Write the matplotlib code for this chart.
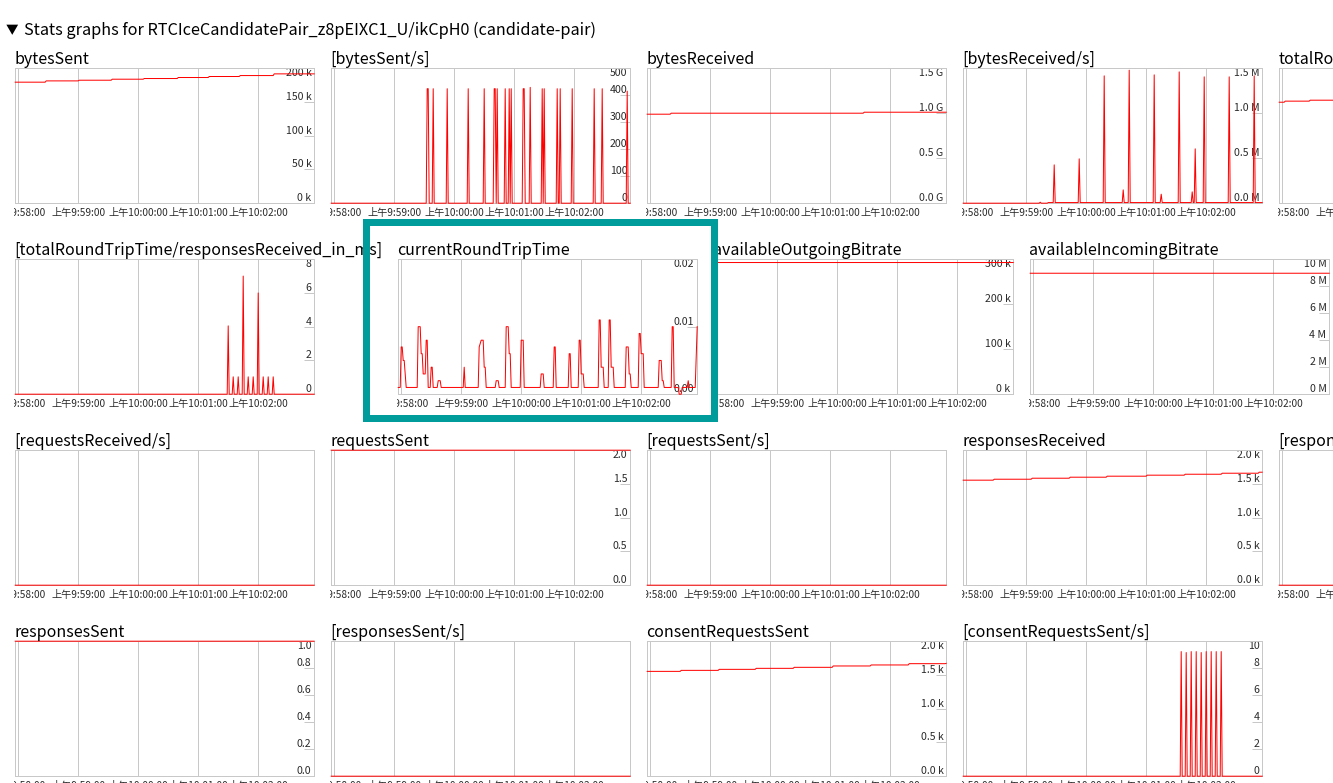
"""
Recreates the webrtc-internals stats graphs screenshot for one candidate pair.
"""

import matplotlib

matplotlib.use("Agg")
import matplotlib.pyplot as plt
from matplotlib.patches import Rectangle
from matplotlib.transforms import Bbox

plt.rcParams["font.family"] = ["Noto Sans CJK SC", "DejaVu Sans"]

WIDTH = 1333
HEIGHT = 783
PANEL_W = 299
PANEL_H = 135
T_START = -3
T_END = 296
GREY = "#c8c8c8"
TEXT_GREY = "#2a2a2a"
RED = "#ff0000"
TEAL = "#009b9b"

SECTION_TITLE = "Stats graphs for RTCIceCandidatePair_z8pEIXC1_U/ikCpH0 (candidate-pair)"
TIME_TICKS = [0, 60, 120, 180, 240]
TIME_LABELS = ["上午9:58:00", "上午9:59:00", "上午10:00:00", "上午10:01:00", "上午10:02:00"]

# step series, times are seconds after 9:58:00
BYTES_SENT_T = [-3, 27, 28, 60, 61, 93, 94, 125, 126, 159, 160, 190, 191, 221, 222, 255, 256, 296]
BYTES_SENT_V = [179.3e3, 179.3e3, 181.2e3, 181.2e3, 182.2e3, 182.2e3, 183.7e3, 183.7e3, 184.7e3,
                184.7e3, 186.2e3, 186.2e3, 187.7e3, 187.7e3, 189.1e3, 189.1e3, 191.6e3, 191.6e3]

BYTES_RECV_T = [-3, 20, 21, 213, 214, 296]
BYTES_RECV_V = [0.989e9, 0.989e9, 1.0e9, 1.0e9, 1.011e9, 1.011e9]

TOTAL_RTT_T = [-3, 2, 3, 27, 28, 296]
TOTAL_RTT_V = [0.748, 0.748, 0.756, 0.756, 0.763, 0.763]

OUTGOING_T = [-3, 296]
OUTGOING_V = [292.6e3, 292.6e3]

INCOMING_T = [-3, 296]
INCOMING_V = [8.96e6, 8.96e6]

RESP_RECV_T = [-3, 27, 28, 65, 66, 103, 104, 140, 141, 180, 181, 218, 219, 255, 256, 292, 293, 296]
RESP_RECV_V = [1556, 1556, 1570, 1570, 1585, 1585, 1600, 1600, 1615, 1615, 1630, 1630, 1644, 1644,
               1659, 1659, 1674, 1674]

CONSENT_T = [-3, 30, 31, 68, 69, 105, 106, 143, 144, 182, 183, 220, 221, 258, 259, 295, 296]
CONSENT_V = [1553, 1553, 1568, 1568, 1583, 1583, 1598, 1598, 1613, 1613, 1633, 1633, 1648, 1648,
             1667, 1667, 1672]

FLAT_ZERO_T = [-3, 296]
FLAT_ZERO_V = [0, 0]
REQUESTS_SENT_V = [2.0, 2.0]
RESPONSES_SENT_V = [1.0, 1.0]

# spike series: time of each peak and its height
BYTES_SENT_RATE_T = [93, 94, 99, 113, 134, 150, 160, 161, 163, 171, 175, 177, 189, 190, 196, 208,
                     210, 223, 226, 238, 260, 268, 293]
BYTES_SENT_RATE_V = [424, 424, 424, 424, 424, 424, 424, 424, 424, 424, 424, 424, 424, 424, 429,
                     424, 424, 424, 424, 424, 424, 424, 415]

BYTES_RECV_RATE_T = [74, 88, 113, 138, 157, 163, 188, 195, 213, 226, 229, 238, 263, 288]
BYTES_RECV_RATE_V = [0.011e6, 0.426e6, 0.493e6, 1.415e6, 0.148e6, 1.478e6, 1.426e6, 0.1e6,
                     1.459e6, 0.126e6, 0.604e6, 1.404e6, 1.404e6, 1.415e6]

RTT_PER_RESP_T = [210, 215, 220, 225, 230, 235, 240, 245, 250, 255]
RTT_PER_RESP_V = [4.05, 1.03, 1.03, 7.0, 1.03, 1.03, 6.0, 1.03, 1.03, 1.03]

CONSENT_RATE_T = [215, 220, 225, 230, 235, 240, 245, 250, 255]
CONSENT_RATE_V = [9.23, 9.16, 9.23, 9.23, 9.16, 9.23, 9.23, 9.23, 9.23]

RTT_T = [-3, -1, 0, 1, 2, 3, 5, 16, 17, 19, 20, 21, 22, 24, 25, 26, 27, 29, 30, 31, 32, 36, 37, 39,
         40, 62, 63, 64, 77, 78, 80, 82, 83, 84, 85, 94, 95, 97, 98, 104, 105, 107, 108, 109, 110,
         119, 120, 122, 123, 139, 140, 142, 143, 152, 153, 154, 155, 167, 168, 169, 170, 177, 178,
         179, 180, 182, 183, 197, 198, 199, 200, 202, 203, 207, 208, 209, 210, 212, 213, 224, 225,
         227, 228, 229, 230, 237, 238, 239, 240, 242, 243, 257, 258, 260, 261, 262, 263, 270, 271,
         272, 273, 277, 278, 280, 281, 286, 287, 288, 294, 296]
RTT_V = [.001, .001, .007, .007, .005, .005, .001, .001, .01, .01, .006, .006, .003, .003, .008,
         .008, .001, .001, .004, .004, .001, .001, .002, .002, .001, .001, .004, .001, .001, .007,
         .008, .008, .004, .004, .001, .001, .002, .002, .001, .001, .01, .01, .006, .006, .001,
         .001, .008, .008, .001, .001, .003, .003, .001, .001, .007, .007, .001, .001, .006, .006,
         .001, .001, .008, .008, .003, .003, .001, .001, .011, .011, .004, .004, .001, .001, .011,
         .011, .004, .004, .001, .001, .007, .007, .003, .003, .001, .001, .009, .009, .006, .006,
         .001, .001, .005, .005, .002, .002, .001, .001, .01, .01, .001, .001, 0, 0, .001, .001,
         .002, .001, .001, .01]

# axis ticks
G_TICKS = [0, 0.5e9, 1.0e9, 1.5e9]
G_LABELS = ["0.0 G", "0.5 G", "1.0 G", "1.5 G"]
BYTES_K_TICKS = [0, 50e3, 100e3, 150e3, 200e3]
BYTES_K_LABELS = ["0 k", "50 k", "100 k", "150 k", "200 k"]
RATE_TICKS = [0, 100, 200, 300, 400, 500]
RATE_LABELS = ["0", "100", "200", "300", "400", "500"]
M_TICKS = [0, 0.5e6, 1.0e6, 1.5e6]
M_LABELS = ["0.0 M", "0.5 M", "1.0 M", "1.5 M"]
RTT_RESP_TICKS = [0, 2, 4, 6, 8]
RTT_RESP_LABELS = ["0", "2", "4", "6", "8"]
RTT_TICKS = [0, 0.01, 0.02]
RTT_LABELS = ["0.00", "0.01", "0.02"]
OUT_TICKS = [0, 100e3, 200e3, 300e3]
OUT_LABELS = ["0 k", "100 k", "200 k", "300 k"]
IN_TICKS = [0, 2e6, 4e6, 6e6, 8e6, 10e6]
IN_LABELS = ["0 M", "2 M", "4 M", "6 M", "8 M", "10 M"]
REQ_TICKS = [0, 0.5, 1.0, 1.5, 2.0]
REQ_LABELS = ["0.0", "0.5", "1.0", "1.5", "2.0"]
K2_TICKS = [0, 500, 1000, 1500, 2000]
K2_LABELS = ["0.0 k", "0.5 k", "1.0 k", "1.5 k", "2.0 k"]
RESP_TICKS = [0, 0.2, 0.4, 0.6, 0.8, 1.0]
RESP_LABELS = ["0.0", "0.2", "0.4", "0.6", "0.8", "1.0"]
CONSENT_RATE_TICKS = [0, 2, 4, 6, 8, 10]
CONSENT_RATE_LABELS = ["0", "2", "4", "6", "8", "10"]


# Function to turn spike peaks into a line that sits on a floor value
def spikeLine(times, values, floorStart=None, floorValue=0):
    def floorAt(t):
        return floorValue if floorStart is not None and t >= floorStart else 0

    points = {T_START: 0, T_END: floorAt(T_END)}
    if floorStart is not None:
        points[floorStart - 1] = 0
        points[floorStart] = floorValue
    for t, v in zip(times, values):
        points.setdefault(t - 1, floorAt(t - 1))
        points.setdefault(t + 1, floorAt(t + 1))
        points[t] = v
    xs = sorted(points)
    return xs, [points[x] for x in xs]


# Function to draw one stats graph, left and top are pixels of the screenshot
def drawPanel(fig, left, top, title, xs, ys, ymax, ticks=None, labels=None):
    ax = fig.add_axes([left / WIDTH, 1 - (top + PANEL_H) / HEIGHT, PANEL_W / WIDTH, PANEL_H / HEIGHT])
    ax.set_xlim(T_START, T_END)
    ax.set_ylim(0, ymax)
    for spine in ax.spines.values():
        spine.set_color(GREY)
        spine.set_linewidth(0.72)

    ax.set_xticks(TIME_TICKS)
    ax.set_xticklabels(TIME_LABELS, fontsize=7.3, color=TEXT_GREY)
    ax.tick_params(axis="x", length=0, pad=3.7)
    ax.grid(axis="x", color=GREY, linewidth=0.72)
    ax.set_axisbelow(True)
    # the first time label is cut off by the left edge of the canvas
    clipBox = Bbox.from_extents(left - 1, 0, left + PANEL_W + 1, HEIGHT)
    for label in ax.get_xticklabels():
        label.set_clip_box(clipBox)
        label.set_clip_on(True)

    ax.yaxis.tick_right()
    if ticks:
        ax.set_yticks(ticks)
        ax.set_yticklabels(labels, fontsize=7.6, color=TEXT_GREY)
        ax.tick_params(axis="y", direction="in", length=7.2, width=0.72, color=GREY, pad=-2)
        yLabels = ax.get_yticklabels()
        plt.setp(yLabels, ha="right", va="bottom")
        # top label stays inside the graph
        yLabels[-1].set_va("top")
    else:
        ax.set_yticks([])

    ax.plot(xs, ys, color=RED, linewidth=0.72, clip_on=False, zorder=3, snap=False)
    ax.set_title(title, loc="left", x=-0.003, fontsize=11.5, pad=2.5, color="black")
    return ax


def main():
    fig = plt.figure(figsize=(WIDTH / 100, HEIGHT / 100), dpi=100, facecolor="white")
    fig.text(6 / WIDTH, 1 - 34 / HEIGHT, "▼", fontsize=9, color="black", va="baseline")
    fig.text(24 / WIDTH, 1 - 35 / HEIGHT, SECTION_TITLE, fontsize=11.7, color="black", va="baseline")

    col = [15.2, 331.2, 647.2, 963.2, 1279.2]
    col2 = [15.2, 398.2, 714.2, 1030.2]
    row = [68.2, 259.2, 450.2, 641.2]

    # first row
    drawPanel(fig, col[0], row[0], "bytesSent", BYTES_SENT_T, BYTES_SENT_V, 200e3, BYTES_K_TICKS, BYTES_K_LABELS)
    xs, ys = spikeLine(BYTES_SENT_RATE_T, BYTES_SENT_RATE_V)
    drawPanel(fig, col[1], row[0], "[bytesSent/s]", xs, ys, 500, RATE_TICKS, RATE_LABELS)
    drawPanel(fig, col[2], row[0], "bytesReceived", BYTES_RECV_T, BYTES_RECV_V, 1.5e9, G_TICKS, G_LABELS)
    xs, ys = spikeLine(BYTES_RECV_RATE_T, BYTES_RECV_RATE_V, floorStart=82, floorValue=0.007e6)
    drawPanel(fig, col[3], row[0], "[bytesReceived/s]", xs, ys, 1.5e6, M_TICKS, M_LABELS)
    drawPanel(fig, col[4], row[0], "totalRoundTripTime", TOTAL_RTT_T, TOTAL_RTT_V, 1.0)

    # second row
    xs, ys = spikeLine(RTT_PER_RESP_T, RTT_PER_RESP_V)
    drawPanel(fig, col2[0], row[1], "[totalRoundTripTime/responsesReceived_in_ms]", xs, ys, 8, RTT_RESP_TICKS, RTT_RESP_LABELS)
    drawPanel(fig, col2[1], row[1], "currentRoundTripTime", RTT_T, RTT_V, 0.02, RTT_TICKS, RTT_LABELS)
    drawPanel(fig, col2[2], row[1], "availableOutgoingBitrate", OUTGOING_T, OUTGOING_V, 300e3, OUT_TICKS, OUT_LABELS)
    drawPanel(fig, col2[3], row[1], "availableIncomingBitrate", INCOMING_T, INCOMING_V, 10e6, IN_TICKS, IN_LABELS)

    # third row
    drawPanel(fig, col[0], row[2], "[requestsReceived/s]", FLAT_ZERO_T, FLAT_ZERO_V, 1)
    drawPanel(fig, col[1], row[2], "requestsSent", FLAT_ZERO_T, REQUESTS_SENT_V, 2.0, REQ_TICKS, REQ_LABELS)
    drawPanel(fig, col[2], row[2], "[requestsSent/s]", FLAT_ZERO_T, FLAT_ZERO_V, 1)
    drawPanel(fig, col[3], row[2], "responsesReceived", RESP_RECV_T, RESP_RECV_V, 2000, K2_TICKS, K2_LABELS)
    drawPanel(fig, col[4], row[2], "[responsesReceived/s]", FLAT_ZERO_T, FLAT_ZERO_V, 1)

    # fourth row
    drawPanel(fig, col[0], row[3], "responsesSent", FLAT_ZERO_T, RESPONSES_SENT_V, 1.0, RESP_TICKS, RESP_LABELS)
    drawPanel(fig, col[1], row[3], "[responsesSent/s]", FLAT_ZERO_T, FLAT_ZERO_V, 1)
    drawPanel(fig, col[2], row[3], "consentRequestsSent", CONSENT_T, CONSENT_V, 2000, K2_TICKS, K2_LABELS)
    xs, ys = spikeLine(CONSENT_RATE_T, CONSENT_RATE_V)
    drawPanel(fig, col[3], row[3], "[consentRequestsSent/s]", xs, ys, 10, CONSENT_RATE_TICKS, CONSENT_RATE_LABELS)

    # teal highlight frame around currentRoundTripTime
    frame = Rectangle(
        (365.7 / WIDTH, 1 - 417.5 / HEIGHT),
        348.7 / WIDTH,
        196 / HEIGHT,
        fill=False,
        edgecolor=TEAL,
        linewidth=5.04,
        joinstyle="miter",
        zorder=10,
    )
    fig.add_artist(frame)

    fig.savefig("out.png", dpi=100, facecolor="white")


main()
